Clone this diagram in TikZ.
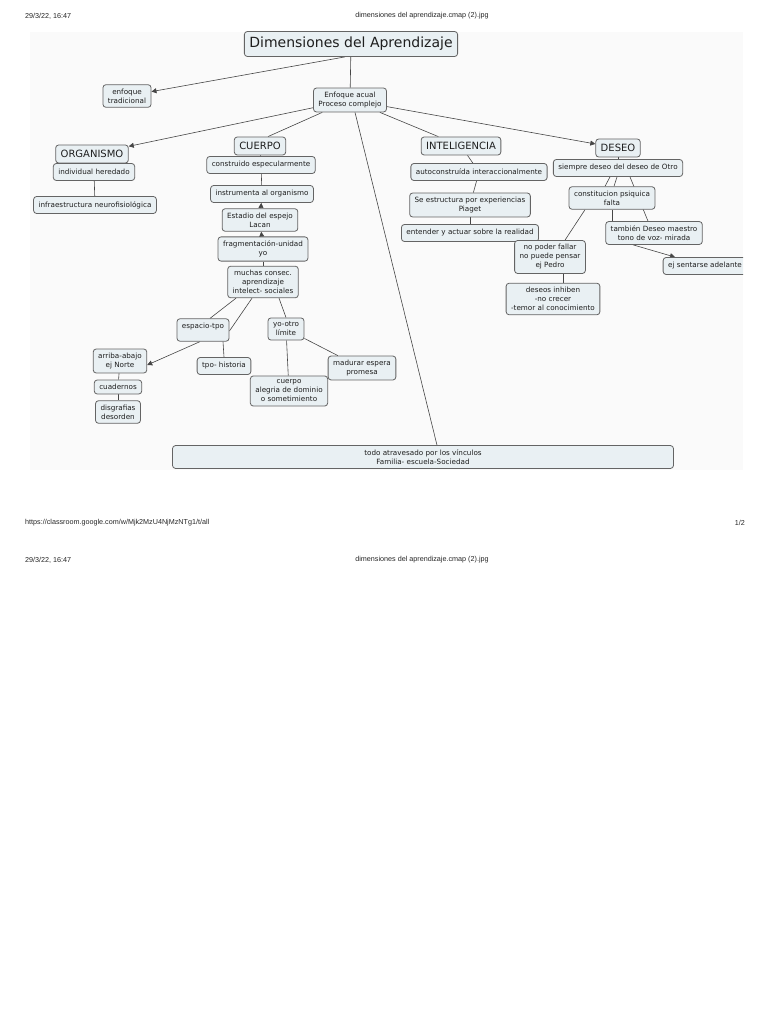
\documentclass[tikz,border=0pt]{standalone}
\usepackage{fontspec}
\setmainfont{DejaVu Sans}
\newfontfamily\pagefont{Liberation Sans}
\usetikzlibrary{arrows.meta}
\definecolor{CmapFill}{RGB}{233,240,243}
\definecolor{CmapEdge}{RGB}{100,100,100}
\definecolor{CmapText}{RGB}{30,30,30}
\definecolor{PanelGray}{RGB}{250,250,250}
\pgfdeclarelayer{panel}
\pgfdeclarelayer{links}
\pgfsetlayers{panel,links,main}
\tikzset{
    concept/.style={draw=CmapEdge,fill=CmapFill,rounded corners=3pt,line width=0.8pt,text=CmapText,align=center,inner xsep=5pt,inner ysep=4pt,minimum height=17pt,font=\fontsize{7.2}{9}\selectfont},
    bigconcept/.style={concept,minimum height=18pt,inner ysep=2pt,font=\fontsize{10}{12}\selectfont},
    titleconcept/.style={concept,minimum height=25pt,inner ysep=2pt,font=\fontsize{14}{16}\selectfont},
    link/.style={draw=CmapEdge!70!black,line width=0.6pt},
    linkarrow/.style={link,-{Triangle[length=5pt,width=5pt]}},
    pagetext/.style={font=\pagefont\fontsize{7.2}{8}\selectfont,text=black!85,inner sep=0pt}
}

\begin{document}
\begin{tikzpicture}[x=1pt,y=-1pt]
\useasboundingbox (0,0) rectangle (768,1024);

% page header and footer
\node[pagetext,anchor=west] (date1) at (25,16) {29/3/22, 16:47};
\node[pagetext] (file1) at (422,16) {dimensiones del aprendizaje.cmap (2).jpg};
\node[pagetext,anchor=west] (url) at (25,523) {https://classroom.google.com/w/Mjk2MzU4NjMzNTg1/t/all};
\node[pagetext,anchor=east] (page) at (745,523) {1/2};
\node[pagetext,anchor=west] (date2) at (25,560) {29/3/22, 16:47};
\node[pagetext] (file2) at (422,560) {dimensiones del aprendizaje.cmap (2).jpg};

% map background
\begin{pgfonlayer}{panel}
\fill[PanelGray] (30,32) rectangle (743,470);
\end{pgfonlayer}

% concepts
\node[titleconcept] (title) at (351,44) {Dimensiones del Aprendizaje};
\node[concept] (tradic) at (127,96) {enfoque\\tradicional};
\node[concept] (actual) at (350,100) {Enfoque acual\\Proceso complejo};

\node[bigconcept] (organismo) at (92,154) {ORGANISMO};
\node[concept] (heredado) at (94,172) {individual heredado};
\node[concept] (neuro) at (95,205) {infraestructura neurofisiológica};

\node[bigconcept] (cuerpo) at (260,146) {CUERPO};
\node[concept] (especular) at (261,165) {construido especularmente};
\node[concept] (instrum) at (262,194) {instrumenta al organismo};
\node[concept] (espejo) at (260,220) {Estadio del espejo\\Lacan};
\node[concept] (fragment) at (263,249) {fragmentación-unidad\\yo};
\node[concept] (consec) at (263,282) {muchas consec.\\aprendizaje\\intelect- sociales};
\node[concept] (espacio) at (203,330) {espacio-tpo\\\mbox{}};
\node[concept] (historia) at (224,366) {tpo- historia};
\node[concept] (arriba) at (120,361) {arriba-abajo\\ej Norte};
\node[concept,minimum height=14pt,inner ysep=2pt] (cuadernos) at (118,387) {cuadernos};
\node[concept] (disgraf) at (118,412) {disgrafias\\desorden};
\node[concept] (yootro) at (286,329) {yo-otro\\límite};
\node[concept] (madurar) at (362,368) {madurar espera\\promesa};
\node[concept] (alegria) at (289,391) {cuerpo\\alegria de dominio\\o sometimiento};

\node[bigconcept] (intelig) at (461,146) {INTELIGENCIA};
\node[concept] (autocons) at (479,172) {autoconstruída interaccionalmente};
\node[concept] (piaget) at (470,205) {Se estructura por experiencias\\Piaget};
\node[concept] (entender) at (470,233) {entender y actuar sobre la realidad};

\node[bigconcept] (deseo) at (618,148) {DESEO};
\node[concept] (siempre) at (618,168) {siempre deseo del deseo de Otro};
\node[concept] (psiquica) at (612,198) {constitucion psiquica\\falta};
\node[concept] (maestro) at (654,233) {también Deseo maestro\\tono de voz- mirada};
\begin{scope}
\clip (30,32) rectangle (743,470);
\node[concept] (sentarse) at (705,266) {ej sentarse adelante};
\end{scope}
\node[concept] (fallar) at (550,257) {no poder fallar\\no puede pensar\\ej Pedro};
\node[concept] (inhiben) at (553,299) {deseos inhiben\\-no crecer\\-temor al conocimiento};

\node[concept,minimum width=501pt] (vinculos) at (423,457) {todo atravesado por los vínculos\\Familia- escuela-Sociedad};

% links
\begin{pgfonlayer}{links}
\draw[linkarrow] ([xshift=-6pt]title.south) -- (tradic);
\draw[link] (title) -- (actual);
\draw[linkarrow] (actual) -- (organismo);
\draw[link] (actual) -- ([xshift=8pt]cuerpo.north);
\draw[link] (actual) -- (intelig);
\draw[linkarrow] (actual) -- (deseo);
\draw[link] ([xshift=5pt]actual.south) -- ([xshift=14pt]vinculos.north);

\draw[link] (organismo) -- (heredado);
\draw[link] (heredado) -- (neuro);

\draw[link] (cuerpo) -- (especular);
\draw[link] (especular) -- (instrum);
\draw[linkarrow] (espejo) -- (instrum);
\draw[linkarrow] (fragment) -- (espejo);
\draw[link] (fragment) -- (consec);
\draw[link] ([xshift=-27pt]consec.south) -- ([xshift=7pt]espacio.north);
\draw[link] ([xshift=-11pt]consec.south) -- ([yshift=-1pt]espacio.east);
\draw[link] ([xshift=20pt]espacio.south) -- (historia.north);
\draw[linkarrow] ([xshift=-3pt]espacio.south) -- ([yshift=-4pt]arriba.east);
\draw[link] (arriba) -- (cuadernos);
\draw[link] (cuadernos) -- (disgraf);
\draw[link] ([xshift=16pt]consec.south) -- (yootro.north);
\draw[link] (yootro) -- (alegria);
\draw[link] (yootro) -- (madurar);

\draw[link] (intelig) -- (autocons);
\draw[link] (autocons) -- (piaget);
\draw[link] (piaget) -- (entender);

\draw[link] (deseo) -- (siempre);
\draw[link] ([xshift=-8pt]siempre.south) -- ([xshift=-7pt]psiquica.north);
\draw[link] ([xshift=-1pt]siempre.south) -- ([xshift=2pt]psiquica.north);
\draw[link] ([xshift=12pt]siempre.south) -- ([xshift=-6pt]maestro.north);
\draw[link] (psiquica) -- ([xshift=-42pt]maestro.north);
\draw[link] ([xshift=-27pt]psiquica.south) -- ([xshift=15pt]fallar.north);
\draw[linkarrow] ([xshift=-21pt]maestro.south) -- ([xshift=-30pt]sentarse.north);
\draw[link] ([xshift=13pt]fallar.south) -- ([xshift=10pt]inhiben.north);
\end{pgfonlayer}
\end{tikzpicture}
\end{document}
